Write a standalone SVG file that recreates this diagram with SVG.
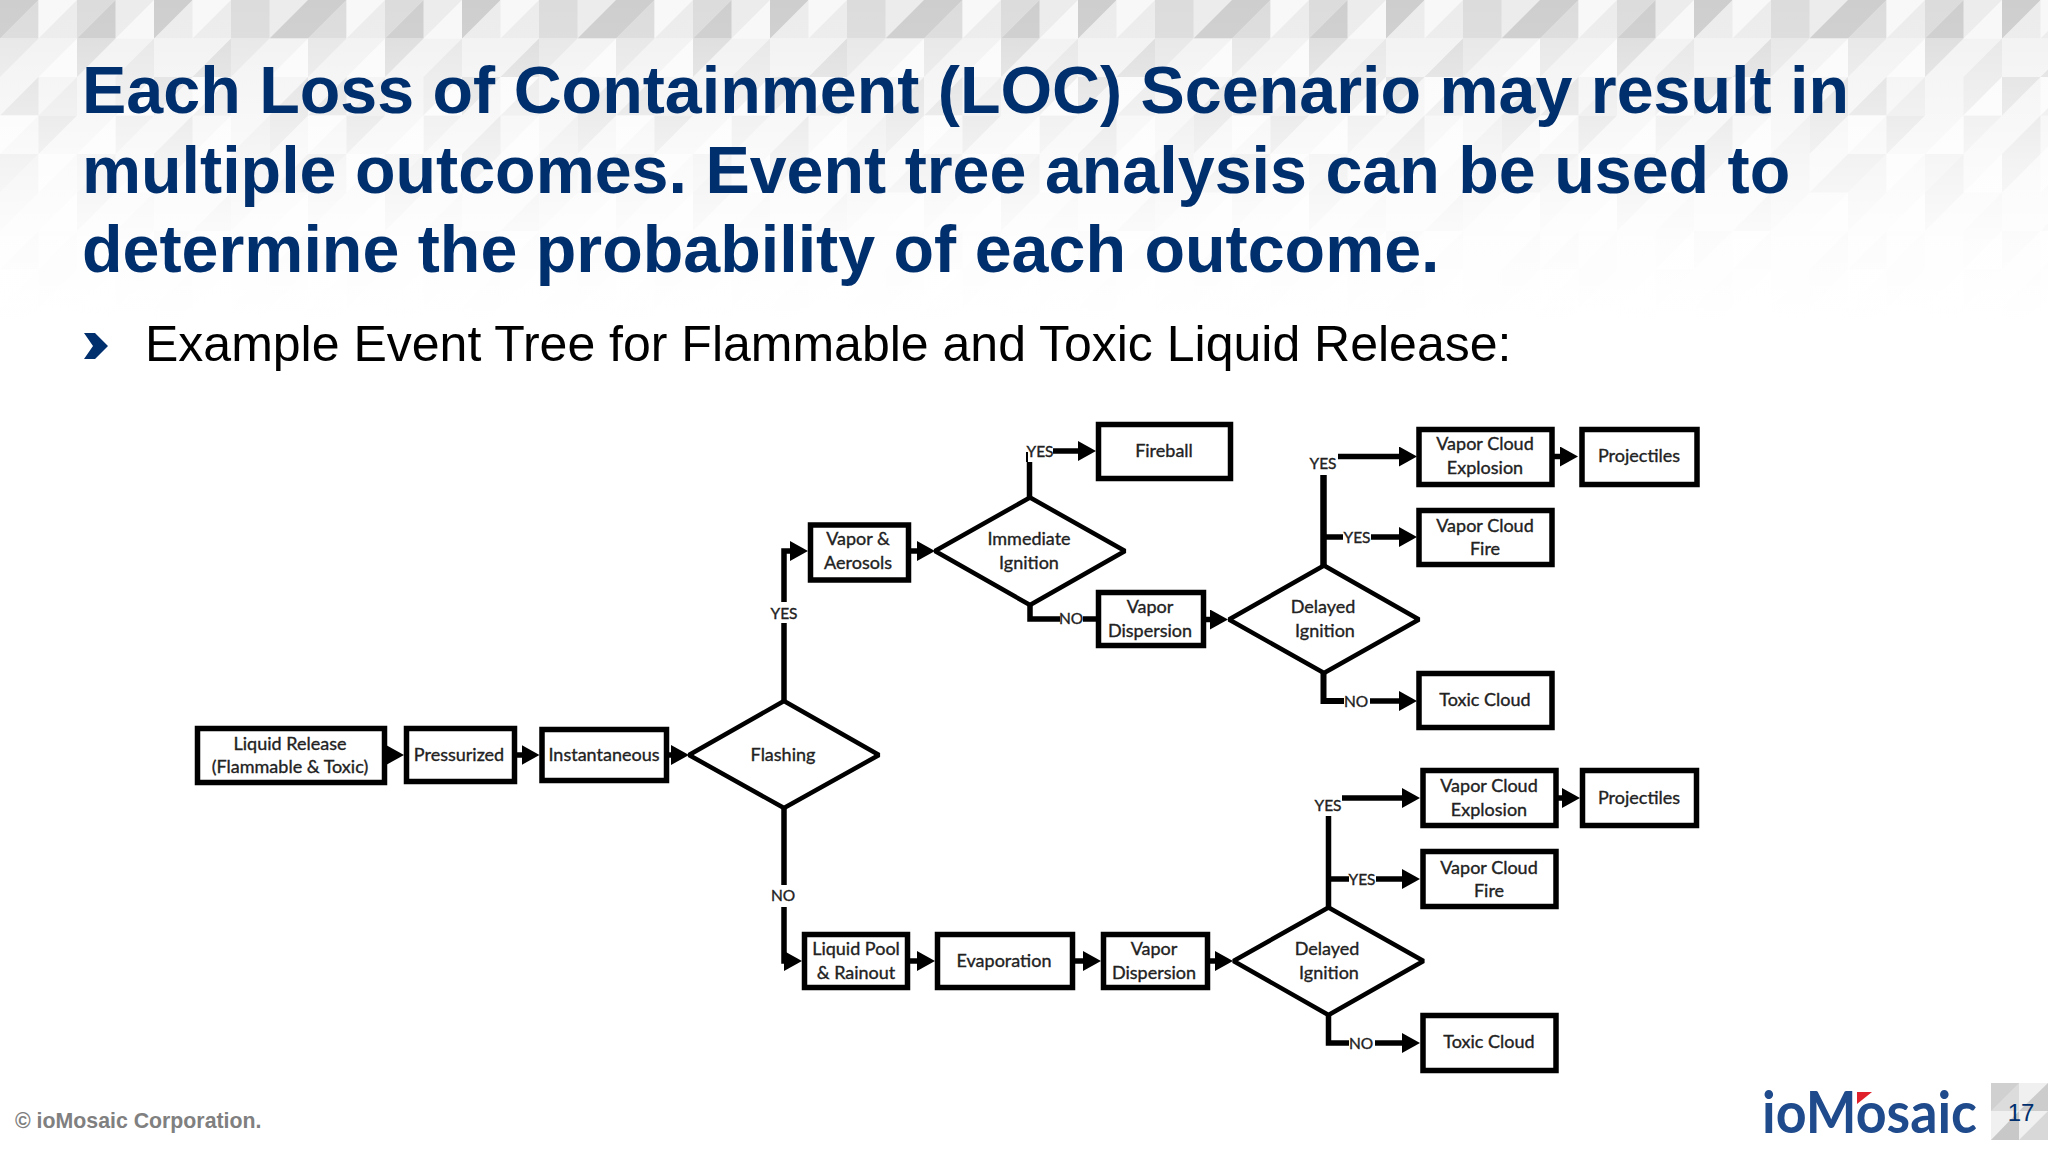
<svg xmlns="http://www.w3.org/2000/svg" width="2048" height="1152" viewBox="0 0 2048 1152">
<style>
.t{font-family:"Liberation Sans",Arial,sans-serif;font-weight:700;font-size:66.4px;fill:#002f6e}
.b{font-family:"Liberation Sans",Arial,sans-serif;font-size:50px;fill:#000}
.f{font-family:"Liberation Sans",Arial,sans-serif;font-weight:700;font-size:21.3px;fill:#808080}
.n{fill:#fff;stroke:#000;stroke-width:5.5}
.d{fill:#fff;stroke:#000;stroke-width:4.5;stroke-linejoin:bevel}
.l{font-family:Lato,"Liberation Sans",sans-serif;font-size:18px;fill:#222;stroke:#222;stroke-width:.35;text-anchor:middle}
.y{font-size:15.5px}
.c{fill:none;stroke:#000;stroke-width:5.5}
.a{marker-end:url(#h)}
</style>
<defs>
<marker id="h" markerUnits="userSpaceOnUse" viewBox="0 0 18 20" refX="6" refY="10" markerWidth="18" markerHeight="20" orient="auto"><path d="M0 0L18 10L0 20z" fill="#000"/></marker>
<pattern id="tri" patternUnits="userSpaceOnUse" width="308" height="154">
<rect width="308" height="154" fill="#ececec"/>
<path fill="#cecece" d="M0 0h38.5l-38.5 38.5zM115.5 0v38.5h-38.5zM154 0h38.5l-38.5 38.5zM308 0v38.5h-38.5zM77 38.5h38.5l-38.5 38.500zM231 38.500v38.500h-38.500zM38.500 77v38.500h-38.500zM154 77h38.500l-38.500 38.500zM308 77v38.500h-38.500zM38.500 115.500h38.500l-38.500 38.500zM192.500 115.500v38.500h-38.500zM269.500 115.500h38.500l-38.500 38.500z"/>
<path fill="#dcdcdc" d="M77 0h38.500l-38.500 38.500zM38.500 0v38.500h-38.500zM231 0h38.500l-38.500 38.500zM269.500 0v38.500h-38.500zM0 38.500h38.500l-38.500 38.500zM154 38.500v38.500h-38.500zM231 38.500h38.500l-38.500 38.500zM77 77v38.500h-38.500zM115.500 77h38.500l-38.500 38.500zM231 77v38.500h-38.500zM115.500 115.500h38.500l-38.500 38.500zM269.500 115.500v38.500h-38.500z"/>
<path fill="#f8f8f8" d="M38.500 0h38.500l-38.500 38.500zM154 0v38.500h-38.500zM192.500 0h38.500l-38.500 38.500zM77 38.500v38.500h-38.500zM308 38.500v38.500h-38.500zM154 77v38.500h-38.500zM192.500 77h38.500l-38.500 38.500zM0 115.500h38.500l-38.500 38.500zM115.500 115.500v38.500h-38.500zM231 115.500v38.500h-38.500z"/>
</pattern>
<linearGradient id="fade" x1="0" y1="0" x2="0" y2="1">
<stop offset="0" stop-color="#fff" stop-opacity="0"/>
<stop offset=".118" stop-color="#fff" stop-opacity=".05"/>
<stop offset=".12" stop-color="#fff" stop-opacity=".35"/>
<stop offset=".25" stop-color="#fff" stop-opacity=".5"/>
<stop offset=".5" stop-color="#fff" stop-opacity=".75"/>
<stop offset=".75" stop-color="#fff" stop-opacity=".93"/>
<stop offset="1" stop-color="#fff" stop-opacity="1"/>
</linearGradient>
</defs>
<rect width="2048" height="1152" fill="#fff"/>
<rect width="2048" height="320" fill="url(#tri)"/>
<rect width="2048" height="320" fill="url(#fade)"/>
<text class="t" x="82" y="112.500">Each Loss of Containment (LOC) Scenario may result in</text>
<text class="t" x="82" y="192.500">multiple outcomes. Event tree analysis can be used to</text>
<text class="t" x="82" y="272">determine the probability of each outcome.</text>
<path d="M84 333h11l13 13l-13 13h-11l9-13z" fill="#002f6e"/>
<text class="b" x="145" y="361">Example Event Tree for Flammable and Toxic Liquid Release:</text>
<g id="connectors">
<path class="c a" d="M387 755H392"/><path class="c a" d="M517 755H527.500"/><path class="c a" d="M669 755H677"/>
<path class="c" d="M784 809V885"/><path class="c a" d="M784 907V961H790"/>
<path class="c" d="M784 700V623"/><path class="c a" d="M784 602V551H796"/>
<path class="c a" d="M911 551H923"/>
<path class="c" d="M1029.500 497V462"/><path class="c" style="stroke-width:2" d="M1027 462V452"/><path class="c a" d="M1053 451H1084"/>
<path class="c" d="M1030 605V619H1060"/><path class="c" d="M1083 619H1096"/>
<path class="c a" d="M1206 619.500H1216"/>
<path class="c" style="stroke-width:6.500" d="M1323.500 565V475"/><path class="c a" d="M1338 456.500H1405"/>
<path class="c" d="M1326 537H1343"/><path class="c a" d="M1371 537H1405"/>
<path class="c" style="stroke-width:6" d="M1323.500 673V701H1344"/><path class="c a" d="M1370 701H1405"/>
<path class="c a" d="M1553 456.500H1566"/>
<path class="c a" d="M909 961H923"/><path class="c a" d="M1075 961H1089"/><path class="c a" d="M1209 961H1221"/>
<path class="c" d="M1328.500 907V816"/><path class="c a" d="M1342 798H1408"/>
<path class="c" d="M1331 879H1349"/><path class="c a" d="M1376 879H1408"/>
<path class="c" d="M1328.500 1015V1043H1349"/><path class="c a" d="M1375 1043H1408"/>
<path class="c a" d="M1558 798H1568"/>
<text class="l y" x="783" y="900.500">NO</text><text class="l y" x="784" y="618.500">YES</text>
<text class="l y" x="1040" y="456.500">YES</text><text class="l y" x="1071" y="624">NO</text>
<text class="l y" x="1323" y="469">YES</text><text class="l y" x="1357" y="542.500">YES</text><text class="l y" x="1356" y="706.500">NO</text>
<text class="l y" x="1328" y="811">YES</text><text class="l y" x="1362" y="884.500">YES</text><text class="l y" x="1361" y="1048.500">NO</text>
</g>
<g id="liquid-release"><rect class="n" x="197.500" y="728.500" width="187" height="54"/><text class="l" x="290" y="750">Liquid Release</text><text class="l" x="290" y="773">(Flammable &amp; Toxic)</text></g>
<g id="pressurized"><rect class="n" x="406.500" y="728.500" width="108" height="53"/><text class="l" x="459" y="761">Pressurized</text></g>
<g id="instantaneous"><rect class="n" x="542" y="729.500" width="124.500" height="51"/><text class="l" x="604" y="761">Instantaneous</text></g>
<g id="flashing"><path class="d" d="M689 755L784 701L879 755L784 808z"/><text class="l" x="783" y="761">Flashing</text></g>
<g id="vapor-aerosols"><rect class="n" x="810.500" y="525" width="98" height="55"/><text class="l" x="858" y="545">Vapor &amp;</text><text class="l" x="858" y="569">Aerosols</text></g>
<g id="immediate-ignition"><path class="d" d="M935 551L1030 497.500L1125 551L1030 605z"/><text class="l" x="1029" y="545">Immediate</text><text class="l" x="1029" y="569">Ignition</text></g>
<g id="fireball"><rect class="n" x="1098.500" y="424.500" width="132" height="54"/><text class="l" x="1164" y="457">Fireball</text></g>
<g id="vapor-dispersion-1"><rect class="n" x="1098.500" y="592.500" width="105" height="53"/><text class="l" x="1150" y="613">Vapor</text><text class="l" x="1150" y="637">Dispersion</text></g>
<g id="delayed-ignition-1"><path class="d" d="M1229 619.500L1324 565.500L1419 619.500L1324 673z"/><text class="l" x="1323" y="613">Delayed</text><text class="l" x="1325" y="637">Ignition</text></g>
<g id="vce-1"><rect class="n" x="1419" y="429.500" width="133" height="55"/><text class="l" x="1485" y="450">Vapor Cloud</text><text class="l" x="1485" y="474">Explosion</text></g>
<g id="projectiles-1"><rect class="n" x="1582" y="429.500" width="115" height="55"/><text class="l" x="1639" y="462">Projectiles</text></g>
<g id="vcf-1"><rect class="n" x="1419" y="510.500" width="133" height="54"/><text class="l" x="1485" y="532">Vapor Cloud</text><text class="l" x="1485" y="555">Fire</text></g>
<g id="toxic-1"><rect class="n" x="1419" y="673.500" width="133" height="54"/><text class="l" x="1485" y="706">Toxic Cloud</text></g>
<g id="liquid-pool"><rect class="n" x="804.500" y="934.500" width="103" height="53"/><text class="l" x="856" y="955">Liquid Pool</text><text class="l" x="856" y="979">&amp; Rainout</text></g>
<g id="evaporation"><rect class="n" x="937.500" y="934.500" width="135" height="53"/><text class="l" x="1004" y="967">Evaporation</text></g>
<g id="vapor-dispersion-2"><rect class="n" x="1103.500" y="934.500" width="104" height="53"/><text class="l" x="1154" y="955">Vapor</text><text class="l" x="1154" y="979">Dispersion</text></g>
<g id="delayed-ignition-2"><path class="d" d="M1233.500 961L1328.500 907.500L1423.500 961L1328.500 1015z"/><text class="l" x="1327" y="955">Delayed</text><text class="l" x="1329" y="979">Ignition</text></g>
<g id="vce-2"><rect class="n" x="1423" y="770.500" width="133" height="55"/><text class="l" x="1489" y="792">Vapor Cloud</text><text class="l" x="1489" y="816">Explosion</text></g>
<g id="projectiles-2"><rect class="n" x="1582.500" y="770.500" width="114" height="55"/><text class="l" x="1639" y="804">Projectiles</text></g>
<g id="vcf-2"><rect class="n" x="1423" y="851.500" width="133" height="55"/><text class="l" x="1489" y="874">Vapor Cloud</text><text class="l" x="1489" y="897">Fire</text></g>
<g id="toxic-2"><rect class="n" x="1423" y="1015.500" width="133" height="55"/><text class="l" x="1489" y="1048">Toxic Cloud</text></g>
<text class="f" x="15" y="1128">© ioMosaic Corporation.</text>
<g id="logo"><text x="1762" y="1133" font-family="Lato,'Liberation Sans',sans-serif" font-weight="700" font-size="57" fill="#1f4a8c" textLength="215" lengthAdjust="spacingAndGlyphs">ioMosaic</text><path d="M1857 1092h15l-15 12z" fill="#e0202a"/></g>
<g id="page-number"><rect x="1991" y="1083" width="57" height="57" fill="#f0f0f0"/><path d="M1991 1083h28v28h-28z" fill="#d0d0d0"/><path d="M1991 1111l28-28v28z" fill="#dcdcdc"/><path d="M2019 1111l29-28v28z" fill="#cccccc"/><path d="M1991 1140l28-29v29z" fill="#c8c8c8"/><path d="M2019 1140l29-29v29z" fill="#d8d8d8"/>
<text x="2021" y="1121" text-anchor="middle" font-family="'Liberation Sans',Arial,sans-serif" font-size="24" fill="#002f6e">17</text></g>
</svg>
